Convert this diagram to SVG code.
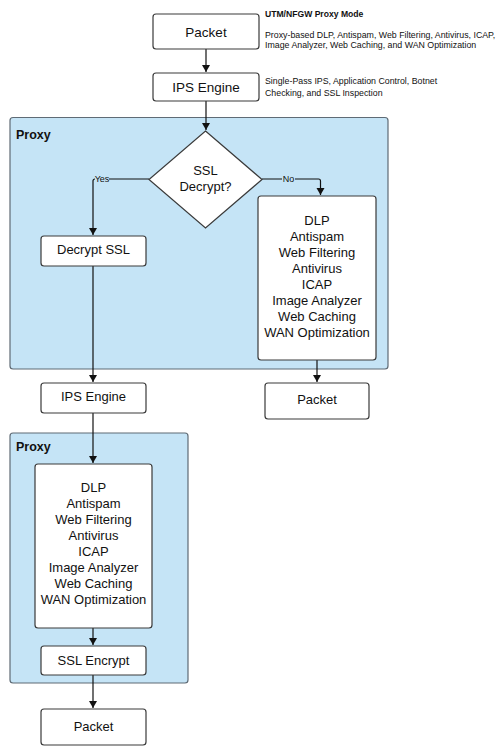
<svg xmlns="http://www.w3.org/2000/svg" width="504" height="751" viewBox="0 0 504 751">
<style>
.node{fill:#ffffff;stroke:#3a3a3a;stroke-width:1.2}
.group{fill:#c5e4f6;stroke:#5f6b75;stroke-width:1.2}
.t{font-family:"Liberation Sans",Arial,sans-serif;font-size:13px;fill:#111;text-anchor:middle}
.big{font-size:13.5px}
.gl{font-family:"Liberation Sans",Arial,sans-serif;font-size:12.5px;font-weight:bold;fill:#111}
.note{font-family:"Liberation Sans",Arial,sans-serif;font-size:8.8px;fill:#111}
.noteb{font-family:"Liberation Sans",Arial,sans-serif;font-size:8.6px;font-weight:bold;fill:#111}
.lbl{font-family:"Liberation Sans",Arial,sans-serif;font-size:9px;fill:#111;text-anchor:middle}
.edge{fill:none;stroke:#111;stroke-width:1.2}
</style>
<defs>
<marker id="arr" markerUnits="userSpaceOnUse" markerWidth="8" markerHeight="9" refX="7" refY="4" orient="auto">
<path d="M0,0 L7,4 L0,8 Z" fill="#111"/>
</marker>
</defs>

<g id="proxy1">
<rect class="group" x="10" y="117.5" width="378" height="251.5" rx="3"/>
<text class="gl" x="16" y="139">Proxy</text>
</g>
<g id="proxy2">
<rect class="group" x="10" y="433" width="178" height="250" rx="3"/>
<text class="gl" x="16" y="451">Proxy</text>
</g>

<g id="notes">
<text class="noteb" x="265" y="16.5">UTM/NFGW Proxy Mode</text>
<text class="note" x="265" y="38">Proxy-based DLP, Antispam, Web Filtering, Antivirus, ICAP,</text>
<text class="note" x="265" y="47.5">Image Analyzer, Web Caching, and WAN Optimization</text>
<text class="note" x="265" y="84">Single-Pass IPS, Application Control, Botnet</text>
<text class="note" x="265" y="96">Checking, and SSL Inspection</text>
</g>

<g id="connectors">
<path class="edge" d="M206,49 L206,72" marker-end="url(#arr)"/>
<path class="edge" d="M206,101 L206,130" marker-end="url(#arr)"/>
<path class="edge" d="M149,179 L95,179 Q93,179 93,181 L93,235" marker-end="url(#arr)"/>
<path class="edge" d="M262,179 L318.5,179 Q320.5,179 320.5,181 L320.5,195" marker-end="url(#arr)"/>
<path class="edge" d="M93,266 L93,382" marker-end="url(#arr)"/>
<path class="edge" d="M317,360 L317,382" marker-end="url(#arr)"/>
<path class="edge" d="M93,413 L93,463" marker-end="url(#arr)"/>
<path class="edge" d="M93,628 L93,645" marker-end="url(#arr)"/>
<path class="edge" d="M93,675 L93,708" marker-end="url(#arr)"/>
<rect x="95" y="174" width="14" height="9" fill="#c5e4f6"/>
<text class="lbl" x="102" y="182">Yes</text>
<rect x="282" y="174" width="13" height="9" fill="#c5e4f6"/>
<text class="lbl" x="288.5" y="182">No</text>
</g>

<g id="packet-top">
<rect class="node" x="153" y="14" width="106" height="35" rx="3"/>
<text class="t big" x="206" y="36.5">Packet</text>
</g>
<g id="ips-top">
<rect class="node" x="153" y="73" width="106" height="28" rx="3"/>
<text class="t big" x="206" y="91.5">IPS Engine</text>
</g>
<g id="ssl-decrypt-decision">
<polygon class="node" points="205.5,131 262,179.5 205.5,228 149,179.5"/>
<text class="t" x="205.5" y="174.5">SSL</text>
<text class="t" x="205.5" y="190.5">Decrypt?</text>
</g>
<g id="decrypt-ssl">
<rect class="node" x="41" y="236" width="105" height="30" rx="3"/>
<text class="t" x="93.5" y="254">Decrypt SSL</text>
</g>
<g id="proxy-services-1">
<rect class="node" x="258" y="196" width="118" height="164" rx="3"/>
<text class="t" x="317" y="224.5">DLP</text>
<text class="t" x="317" y="240.5">Antispam</text>
<text class="t" x="317" y="256.5">Web Filtering</text>
<text class="t" x="317" y="272.5">Antivirus</text>
<text class="t" x="317" y="288.5">ICAP</text>
<text class="t" x="317" y="304.5">Image Analyzer</text>
<text class="t" x="317" y="320.5">Web Caching</text>
<text class="t" x="317" y="336.5">WAN Optimization</text>
</g>
<g id="packet-right">
<rect class="node" x="265" y="383" width="104" height="36" rx="3"/>
<text class="t" x="317" y="403.5">Packet</text>
</g>
<g id="ips-2">
<rect class="node" x="41" y="383" width="105" height="30" rx="3"/>
<text class="t" x="93.5" y="400.5">IPS Engine</text>
</g>
<g id="proxy-services-2">
<rect class="node" x="35" y="464" width="117" height="164" rx="3"/>
<text class="t" x="93.5" y="491.5">DLP</text>
<text class="t" x="93.5" y="507.5">Antispam</text>
<text class="t" x="93.5" y="523.5">Web Filtering</text>
<text class="t" x="93.5" y="539.5">Antivirus</text>
<text class="t" x="93.5" y="555.5">ICAP</text>
<text class="t" x="93.5" y="571.5">Image Analyzer</text>
<text class="t" x="93.5" y="587.5">Web Caching</text>
<text class="t" x="93.5" y="603.5">WAN Optimization</text>
</g>
<g id="ssl-encrypt">
<rect class="node" x="41" y="646" width="105" height="29" rx="3"/>
<text class="t" x="93.5" y="664.5">SSL Encrypt</text>
</g>
<g id="packet-bottom">
<rect class="node" x="41" y="709" width="105" height="36" rx="3"/>
<text class="t" x="93.5" y="731">Packet</text>
</g>
</svg>
